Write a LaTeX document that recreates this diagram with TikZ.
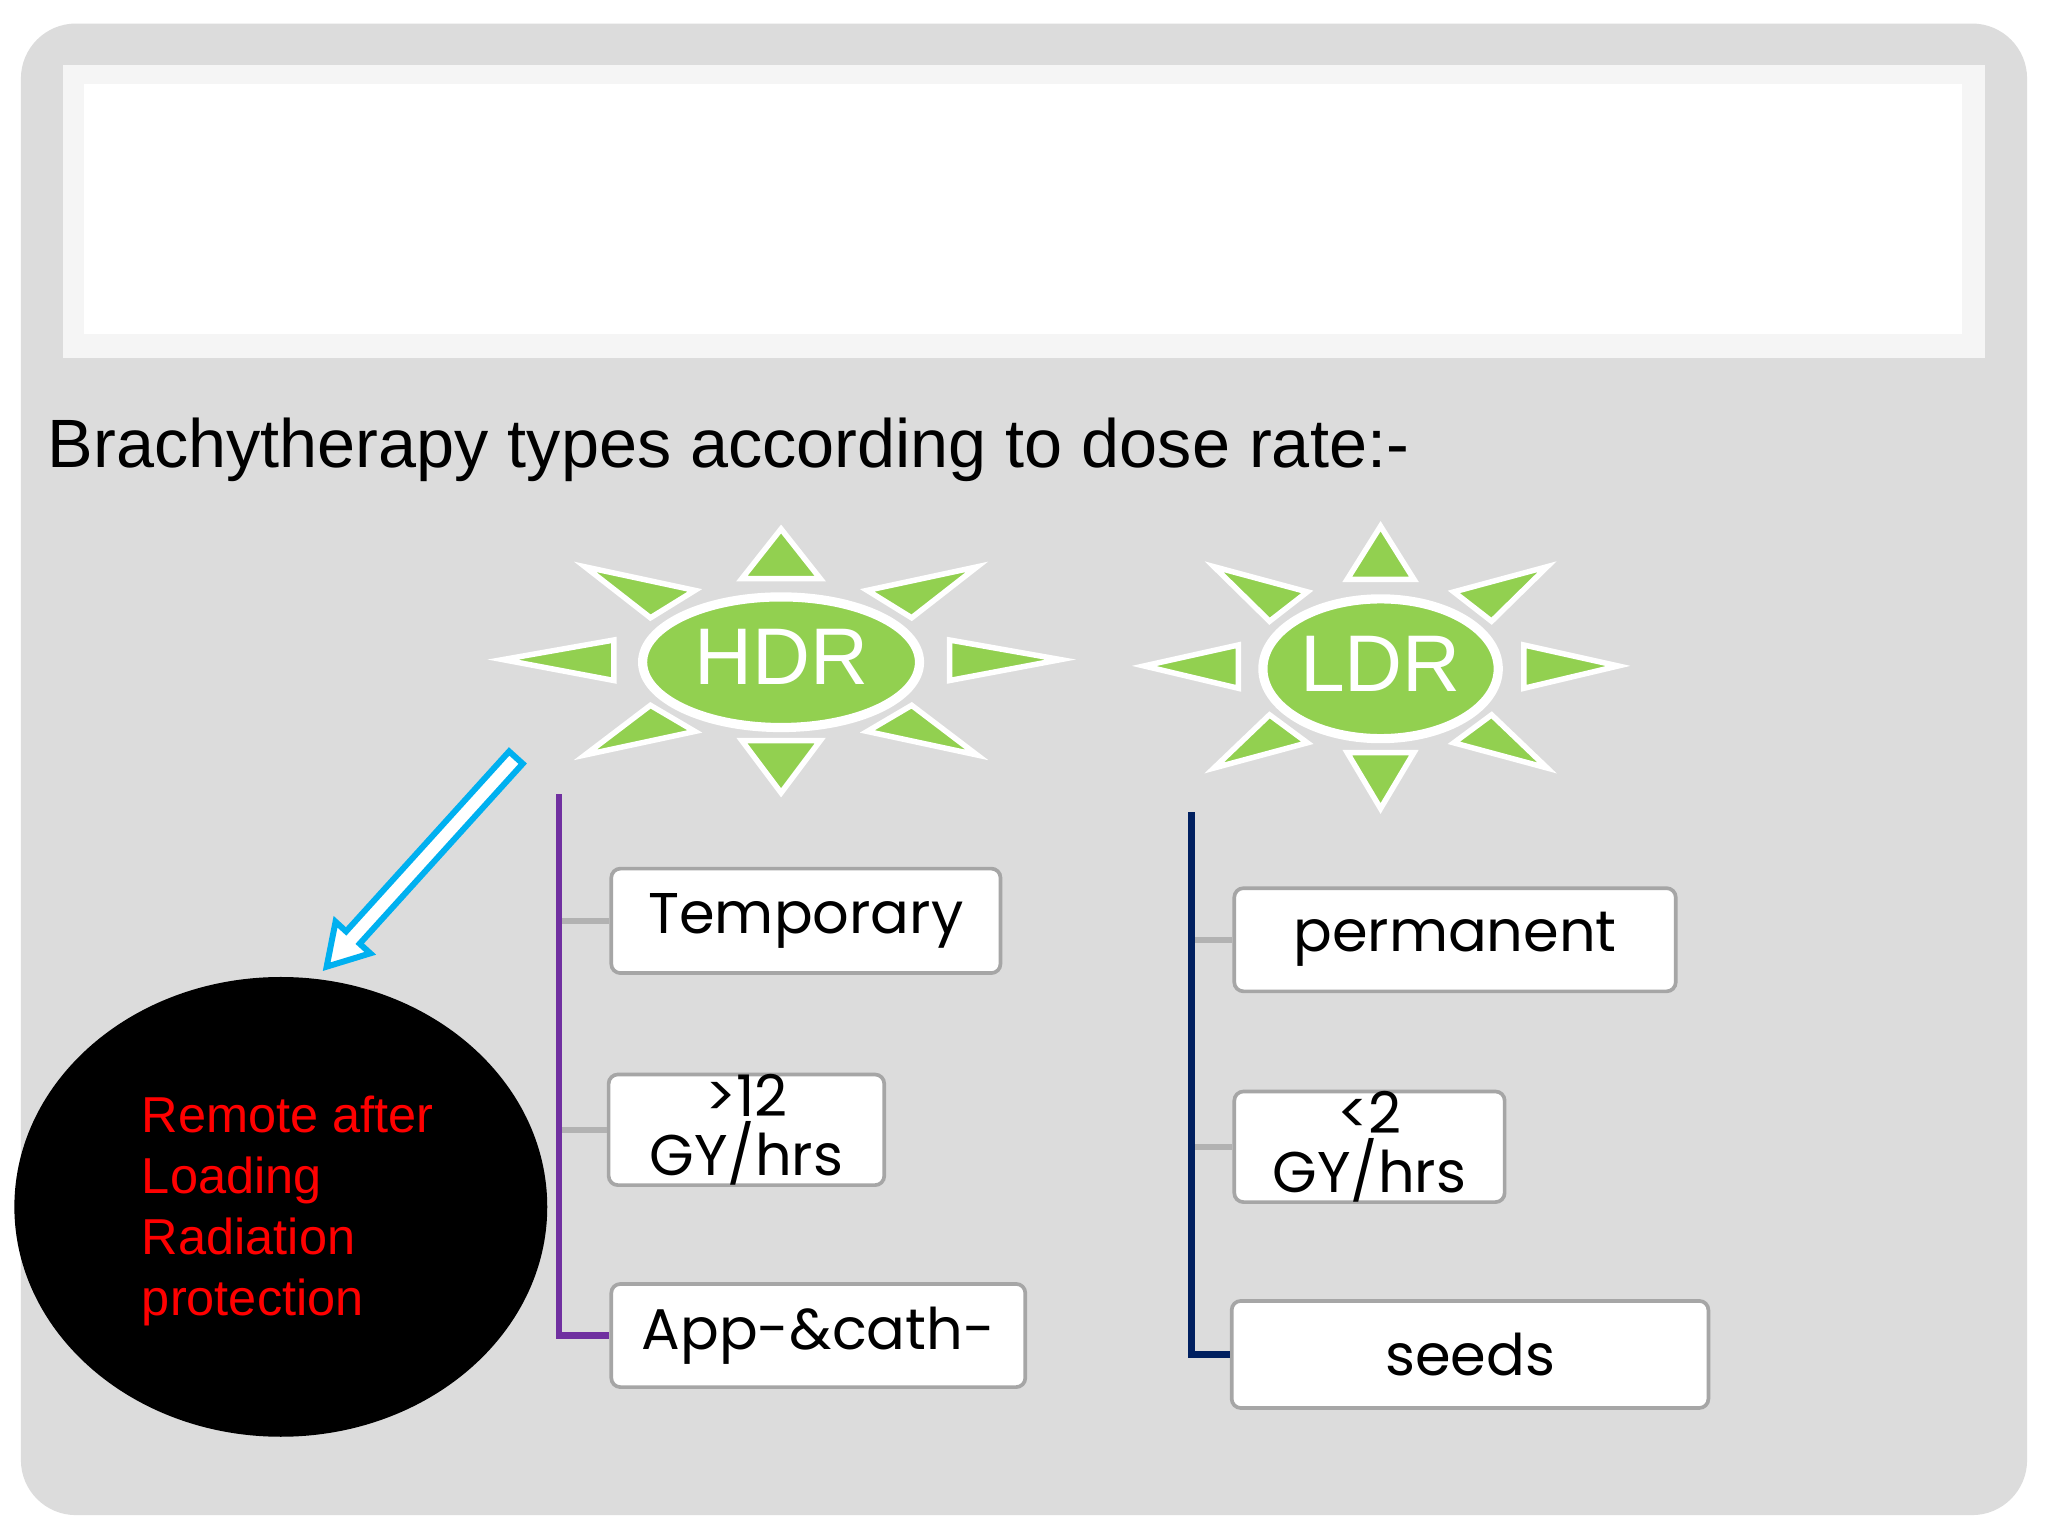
\documentclass[tikz,border=0pt]{standalone}
\usepackage{fontspec}
\setmainfont{Liberation Sans}
\newfontfamily\boxfont{Poppins}
\definecolor{panel}{HTML}{DCDCDC}
\definecolor{sungreen}{HTML}{92D050}
\definecolor{purp}{HTML}{7030A0}
\definecolor{navy}{HTML}{002060}
\definecolor{cyanar}{HTML}{00B0F0}
\tikzset{
  ray/.style={fill=sungreen,draw=white,line width=1.2pt},
  item/.style={draw=gray!70,fill=white,rounded corners=2pt,line width=0.8pt,font=\boxfont\fontsize{12.5}{10.5}\selectfont,align=center,inner sep=0pt},
  tick/.style={draw=gray!60,line width=1.2pt}
}
\begin{document}
\begin{tikzpicture}[x=0.1mm,y=-0.1mm]
\useasboundingbox (0,0) rectangle (1568,1176);
\fill[white] (0,0) rectangle (1568,1176);
\fill[panel,rounded corners=12pt] (16,18) rectangle (1552,1160);
\fill[gray!8] (48,50) rectangle (1520,274);
\fill[white] (64,64) rectangle (1502,256);
\node[anchor=base west,inner sep=0pt,font=\fontsize{14.9}{14.9}\selectfont] (title) at (36,358) {Brachytherapy types according to dose rate:-};
% suns
\foreach \cx/\cy/\sx/\sy/\lab/\nm in {598/507/1/1/HDR/hdr,1057/512/0.85/1.07/LDR/ldr}{
\begin{scope}[shift={(\cx,\cy)},xscale=\sx,yscale=\sy]
\draw[ray] (0,-102)--(-30,-64)--(30,-64)--cycle;
\draw[ray] (0,100)--(-30,60)--(30,60)--cycle;
\draw[ray] (-213,-2)--(-128,-17)--(-128,14)--cycle;
\draw[ray] (214,-2)--(129,-17)--(129,14)--cycle;
\draw[ray] (-150,-73)--(-66,-55)--(-100,-34)--cycle;
\draw[ray] (150,-73)--(66,-55)--(100,-34)--cycle;
\draw[ray] (-150,71)--(-66,53)--(-100,33)--cycle;
\draw[ray] (150,71)--(66,53)--(100,33)--cycle;
\draw[ray,line width=2pt] (0,0) ellipse (106 and 50);
\end{scope}
\node[text=white,font=\fontsize{17.5}{17.5}\selectfont] (\nm) at (\cx,\cy-4) {\lab};
}
% boxes
\node[item,minimum width=29.8mm,minimum height=8mm] (temp) at (617,705) {Temporary};
\node[item,minimum width=21.1mm,minimum height=8.4mm] (gt) at (571.5,865) {>12\\GY/hrs};
\node[item,minimum width=31.7mm,minimum height=7.9mm] (app) at (626.5,1022.5) {App-\&cath-};
\node[item,minimum width=33.8mm,minimum height=7.9mm] (perm) at (1114,719.5) {permanent};
\node[item,minimum width=20.7mm,minimum height=8mm] (lt) at (1048.5,878) {<2\\GY/hrs};
\node[item,minimum width=36.5mm,minimum height=8.2mm] (seeds) at (1125.5,1037) {seeds};
% connectors
\coordinate (ht) at (428,608);
\coordinate (lt0) at (912,622);
\draw[tick] (428,0 |- temp.west) -- (temp.west);
\draw[tick] (428,0 |- gt.west) -- (gt.west);
\draw[purp,line width=1.5pt] (ht) |- (app.west);
\draw[tick] (912,0 |- perm.west) -- (perm.west);
\draw[tick] (912,0 |- lt.west) -- (lt.west);
\draw[navy,line width=1.5pt] (lt0) |- (seeds.west);
% ellipse
\fill[black] (215,924) ellipse (204 and 176);
\node[anchor=north west,align=left,text=red,inner sep=0pt,font=\fontsize{11}{13.3}\selectfont] (remote) at (108,838) {Remote after\\Loading\\Radiation\\protection};
% hollow arrow
\draw[cyanar,fill=white,line width=1.3pt] (400.2,584.7)--(275.4,722.5)--(283.5,729.9)--(250.1,740.1)--(256.9,705.7)--(265.0,713.1)--(389.8,575.3)--cycle;
\end{tikzpicture}
\end{document}
